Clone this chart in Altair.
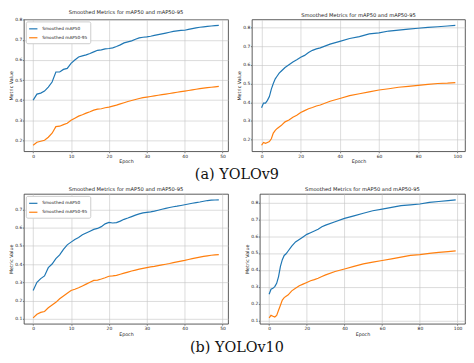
import altair as alt
import pandas as pd

TITLE = "Smoothed Metrics for mAP50 and mAP50-95"
SERIES = ["Smoothed mAP50", "Smoothed mAP50-95"]
COLORS = ["#1f77b4", "#ff7f0e"]

# YOLOv9, 50 epochs
v9_50_epochs = list(range(50))
v9_50_map50 = [0.400, 0.430, 0.435, 0.445, 0.465, 0.490, 0.540, 0.540, 0.553, 0.558,
               0.583, 0.600, 0.615, 0.620, 0.625, 0.632, 0.640, 0.648, 0.650, 0.655,
               0.657, 0.660, 0.667, 0.675, 0.685, 0.690, 0.695, 0.703, 0.710, 0.713,
               0.715, 0.718, 0.722, 0.726, 0.730, 0.734, 0.738, 0.742, 0.745, 0.747,
               0.748, 0.752, 0.756, 0.760, 0.763, 0.765, 0.767, 0.769, 0.771, 0.772]
v9_50_map5095 = [0.175, 0.190, 0.195, 0.200, 0.215, 0.235, 0.268, 0.270, 0.278, 0.285,
                 0.300, 0.310, 0.320, 0.327, 0.335, 0.342, 0.350, 0.355, 0.357, 0.362,
                 0.365, 0.370, 0.375, 0.381, 0.387, 0.393, 0.398, 0.403, 0.408, 0.412,
                 0.415, 0.418, 0.421, 0.424, 0.427, 0.430, 0.433, 0.436, 0.439, 0.442,
                 0.445, 0.448, 0.451, 0.454, 0.457, 0.460, 0.462, 0.464, 0.466, 0.468]

# YOLOv9, 100 epochs
v9_100_epochs = [0, 1, 2, 3, 4, 5, 6, 7, 8, 9, 10, 12, 14, 16, 18, 20, 22, 24, 26, 28,
                 30, 35, 40, 45, 50, 55, 60, 65, 70, 75, 80, 85, 90, 95, 99]
v9_100_map50 = [0.370, 0.395, 0.395, 0.410, 0.430, 0.470, 0.500, 0.525, 0.540, 0.555,
                0.565, 0.585, 0.600, 0.615, 0.627, 0.640, 0.650, 0.665, 0.677, 0.685,
                0.690, 0.710, 0.725, 0.740, 0.750, 0.765, 0.770, 0.780, 0.785, 0.790,
                0.795, 0.800, 0.803, 0.807, 0.810]
v9_100_map5095 = [0.170, 0.185, 0.180, 0.185, 0.190, 0.205, 0.235, 0.250, 0.260, 0.268,
                  0.275, 0.295, 0.305, 0.320, 0.330, 0.345, 0.355, 0.365, 0.372, 0.380,
                  0.385, 0.405, 0.420, 0.435, 0.445, 0.455, 0.465, 0.472, 0.480, 0.485,
                  0.490, 0.495, 0.500, 0.502, 0.505]

# YOLOv10, 50 epochs
v10_50_epochs = list(range(50))
v10_50_map50 = [0.255, 0.300, 0.320, 0.335, 0.380, 0.400, 0.430, 0.450, 0.480, 0.505,
                0.520, 0.535, 0.545, 0.560, 0.570, 0.580, 0.590, 0.595, 0.605, 0.620,
                0.628, 0.625, 0.627, 0.635, 0.645, 0.652, 0.660, 0.668, 0.675, 0.680,
                0.683, 0.686, 0.690, 0.695, 0.700, 0.705, 0.710, 0.714, 0.717, 0.721,
                0.725, 0.729, 0.733, 0.737, 0.740, 0.744, 0.748, 0.750, 0.751, 0.752]
v10_50_map5095 = [0.105, 0.125, 0.135, 0.140, 0.160, 0.175, 0.190, 0.210, 0.225, 0.240,
                  0.255, 0.262, 0.270, 0.280, 0.290, 0.300, 0.310, 0.312, 0.318, 0.325,
                  0.333, 0.335, 0.338, 0.344, 0.350, 0.356, 0.362, 0.367, 0.372, 0.376,
                  0.380, 0.384, 0.387, 0.391, 0.395, 0.399, 0.403, 0.408, 0.412, 0.416,
                  0.420, 0.425, 0.430, 0.434, 0.438, 0.442, 0.445, 0.448, 0.450, 0.452]

# YOLOv10, 100 epochs
v10_100_epochs = [0, 1, 2, 3, 4, 5, 6, 7, 8, 9, 10, 12, 14, 16, 18, 20, 22, 24, 26, 28,
                  30, 35, 40, 45, 50, 55, 60, 65, 70, 75, 80, 85, 90, 95, 99]
v10_100_map50 = [0.255, 0.285, 0.290, 0.300, 0.320, 0.360, 0.420, 0.460, 0.485, 0.495,
                 0.510, 0.540, 0.565, 0.580, 0.595, 0.610, 0.620, 0.630, 0.640, 0.655,
                 0.665, 0.685, 0.705, 0.720, 0.735, 0.750, 0.760, 0.770, 0.780, 0.785,
                 0.790, 0.800, 0.805, 0.810, 0.815]
v10_100_map5095 = [0.115, 0.130, 0.125, 0.120, 0.130, 0.160, 0.190, 0.220, 0.235, 0.243,
                   0.250, 0.275, 0.290, 0.305, 0.315, 0.325, 0.335, 0.342, 0.350, 0.360,
                   0.370, 0.390, 0.405, 0.420, 0.435, 0.445, 0.455, 0.465, 0.475, 0.485,
                   0.490, 0.497, 0.503, 0.508, 0.512]

x_ticks_50 = [0, 10, 20, 30, 40, 50]
x_ticks_100 = [0, 20, 40, 60, 80, 100]
y_ticks_v9 = [0.2, 0.3, 0.4, 0.5, 0.6, 0.7, 0.8]
y_ticks_v10_50 = [0.1, 0.2, 0.3, 0.4, 0.5, 0.6, 0.7]
y_ticks_v10_100 = [0.1, 0.2, 0.3, 0.4, 0.5, 0.6, 0.7, 0.8]

FONT = "DejaVu Sans"


def margin_domain(vals):
    lo, hi = min(vals), max(vals)
    m = 0.05 * (hi - lo)
    return [lo - m, hi + m]


def panel(epochs, a, b, xticks, yticks, w, h):
    df = pd.DataFrame({
        "Epoch": list(epochs) * 2,
        "Value": list(a) + list(b),
        "Series": [SERIES[0]] * len(a) + [SERIES[1]] * len(b),
    })
    xdom = margin_domain(epochs)
    ydom = margin_domain(list(a) + list(b))
    return alt.Chart(df, title=alt.Title(TITLE, fontSize=5.2, font=FONT, fontWeight="normal",
                                         offset=1.5, color="#222")).mark_line(
        strokeWidth=1.2, clip=True
    ).encode(
        x=alt.X("Epoch:Q", scale=alt.Scale(domain=xdom, nice=False, zero=False),
                axis=alt.Axis(values=xticks, format="d", title="Epoch")),
        y=alt.Y("Value:Q", scale=alt.Scale(domain=ydom, nice=False, zero=False),
                axis=alt.Axis(values=yticks, format=".1f", title="Metric Value")),
        color=alt.Color("Series:N", scale=alt.Scale(domain=SERIES, range=COLORS),
                        legend=alt.Legend(orient="top-left", title=None, offset=2,
                                          strokeColor="#cccccc", fillColor="white",
                                          padding=2.5, cornerRadius=1.5,
                                          labelFontSize=4.3, labelFont=FONT, labelColor="#222",
                                          symbolType="stroke", symbolSize=70,
                                          symbolStrokeWidth=1.2, rowPadding=1,
                                          labelLimit=200)),
        order="Epoch:Q",
    ).properties(width=w, height=h)


tl = panel(v9_50_epochs, v9_50_map50, v9_50_map5095, x_ticks_50, y_ticks_v9, 206, 133)
tr = panel(v9_100_epochs, v9_100_map50, v9_100_map5095, x_ticks_100, y_ticks_v9, 215, 133)
bl = panel(v10_50_epochs, v10_50_map50, v10_50_map5095, x_ticks_50, y_ticks_v10_50, 206, 131)
br = panel(v10_100_epochs, v10_100_map50, v10_100_map5095, x_ticks_100, y_ticks_v10_100, 207, 131)

cap_font = "DejaVu Serif"
top = alt.hconcat(tl, tr, spacing=7, title=alt.Title("(a) YOLOv9", orient="bottom", anchor="middle",
                                                     fontSize=14.5, font=cap_font, fontWeight="normal",
                                                     offset=4, color="#111"))
bottom = alt.hconcat(bl, br, spacing=15, title=alt.Title("(b) YOLOv10", orient="bottom", anchor="middle",
                                                         fontSize=14.5, font=cap_font, fontWeight="normal",
                                                         offset=5, color="#111"))

chart = alt.vconcat(top, bottom, spacing=4).resolve_legend(color="independent").properties(
    padding=0,
    background="white",
).configure_view(
    stroke="#333333", strokeWidth=0.8
).configure_axis(
    labelFontSize=4.5, labelFont=FONT, labelColor="#222",
    titleFontSize=4.8, titleFont=FONT, titleFontWeight="normal", titleColor="#222",
    titlePadding=1, labelPadding=0.5,
    grid=True, gridColor="#c4c4c4", gridWidth=0.6,
    domain=False, ticks=True, tickColor="#333", tickSize=1.5, tickWidth=0.6,
)

chart.save("out.html", embed_options={"renderer": "svg", "actions": False})
